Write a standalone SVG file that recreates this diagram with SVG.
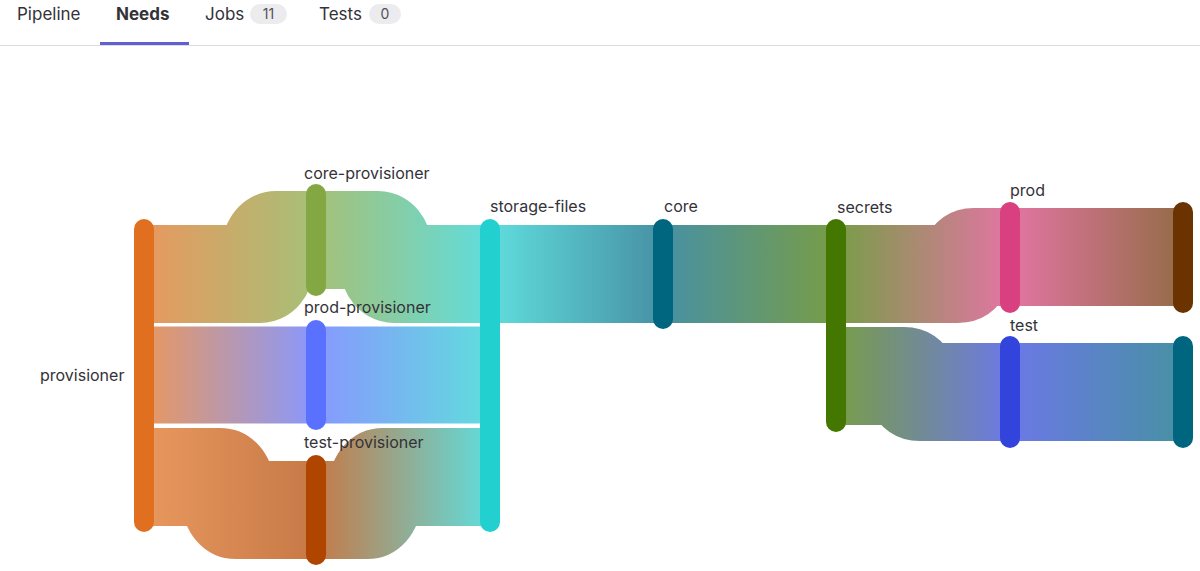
<svg xmlns="http://www.w3.org/2000/svg" width="1200" height="571" viewBox="0 0 1200 571">
<style>
.tab{font-family:"Inter","Liberation Sans",sans-serif;font-size:17px;fill:#333238}
.badge{fill:#ececef}
.bt{font-family:"Inter","Liberation Sans",sans-serif;font-size:14px;fill:#535158;text-anchor:middle}
.lbl{font-family:"Inter","Liberation Sans",sans-serif;font-size:16px;fill:#333238}
.lk{fill:none;stroke-opacity:0.72}
.w98{stroke-width:98}
</style>
<defs>
<linearGradient id="g1" gradientUnits="userSpaceOnUse" x1="144" y1="0" x2="316" y2="0"><stop offset="0" stop-color="#e07020"/><stop offset="1" stop-color="#83a843"/></linearGradient>
<linearGradient id="g2" gradientUnits="userSpaceOnUse" x1="316" y1="0" x2="490" y2="0"><stop offset="0" stop-color="#83a843"/><stop offset="1" stop-color="#22d0d0"/></linearGradient>
<linearGradient id="g3" gradientUnits="userSpaceOnUse" x1="144" y1="0" x2="316" y2="0"><stop offset="0" stop-color="#e07020"/><stop offset="1" stop-color="#5a70ff"/></linearGradient>
<linearGradient id="g4" gradientUnits="userSpaceOnUse" x1="316" y1="0" x2="490" y2="0"><stop offset="0" stop-color="#5a70ff"/><stop offset="1" stop-color="#22d0d0"/></linearGradient>
<linearGradient id="g5" gradientUnits="userSpaceOnUse" x1="144" y1="0" x2="316" y2="0"><stop offset="0" stop-color="#e07020"/><stop offset="1" stop-color="#b04500"/></linearGradient>
<linearGradient id="g6" gradientUnits="userSpaceOnUse" x1="316" y1="0" x2="490" y2="0"><stop offset="0" stop-color="#b04500"/><stop offset="1" stop-color="#22d0d0"/></linearGradient>
<linearGradient id="g7" gradientUnits="userSpaceOnUse" x1="490" y1="0" x2="663" y2="0"><stop offset="0" stop-color="#22d0d0"/><stop offset="1" stop-color="#006680"/></linearGradient>
<linearGradient id="g8" gradientUnits="userSpaceOnUse" x1="663" y1="0" x2="836" y2="0"><stop offset="0" stop-color="#006680"/><stop offset="1" stop-color="#447700"/></linearGradient>
<linearGradient id="g9" gradientUnits="userSpaceOnUse" x1="836" y1="0" x2="1010" y2="0"><stop offset="0" stop-color="#447700"/><stop offset="1" stop-color="#d84080"/></linearGradient>
<linearGradient id="g10" gradientUnits="userSpaceOnUse" x1="836" y1="0" x2="1010" y2="0"><stop offset="0" stop-color="#447700"/><stop offset="1" stop-color="#3344dd"/></linearGradient>
<linearGradient id="g11" gradientUnits="userSpaceOnUse" x1="1010" y1="0" x2="1183" y2="0"><stop offset="0" stop-color="#d84080"/><stop offset="1" stop-color="#6b3300"/></linearGradient>
<linearGradient id="g12" gradientUnits="userSpaceOnUse" x1="1010" y1="0" x2="1183" y2="0"><stop offset="0" stop-color="#3344dd"/><stop offset="1" stop-color="#006680"/></linearGradient>
</defs>
<rect width="1200" height="571" fill="#ffffff"/>
<g id="tabs">
<text class="tab" x="17" y="20">Pipeline</text>
<text class="tab" x="116" y="20" font-weight="bold">Needs</text>
<rect x="100" y="42" width="89" height="3" fill="#6060d0"/>
<text class="tab" x="205" y="20">Jobs</text>
<rect class="badge" x="250" y="4" width="37" height="20" rx="10"/>
<text class="bt" x="268.5" y="19">11</text>
<text class="tab" x="319" y="20">Tests</text>
<rect class="badge" x="369" y="4" width="32" height="20" rx="10"/>
<text class="bt" x="385" y="19">0</text>
<rect x="0" y="45" width="1200" height="1" fill="#dcdcde"/>
</g>
<g id="connectors">
<path class="lk w98" stroke="url(#g1)" d="M150,274 H260 C268,274 268,240 276,240 H316"/>
<path class="lk w98" stroke="url(#g2)" d="M316,240 H378 C386,240 386,274 394,274 H490"/>
<path class="lk" stroke="url(#g3)" stroke-width="97" d="M150,375 H316"/>
<path class="lk" stroke="url(#g4)" stroke-width="97" d="M316,375 H490"/>
<path class="lk w98" stroke="url(#g5)" d="M150,477 H220 C228,477 228,510 236,510 H316"/>
<path class="lk w98" stroke="url(#g6)" d="M316,510 H367 C375,510 375,477 383,477 H490"/>
<path class="lk w98" stroke="url(#g7)" d="M490,274 H663"/>
<path class="lk w98" stroke="url(#g8)" d="M663,274 H836"/>
<path class="lk w98" stroke="url(#g9)" d="M836,274 H958 C966,274 966,257 974,257 H1010"/>
<path class="lk w98" stroke="url(#g10)" d="M836,376 H904 C912,376 912,392 920,392 H1010"/>
<path class="lk w98" stroke="url(#g11)" d="M1010,257 H1183"/>
<path class="lk w98" stroke="url(#g12)" d="M1010,392 H1183"/>
<rect x="154" y="323" width="326" height="2" fill="#ffffff"/>
<rect x="154" y="424" width="326" height="2" fill="#ffffff"/>
</g>
<g id="provisioner"><rect x="134" y="219" width="20" height="313" rx="10" fill="#e07020"/><text class="lbl" x="40" y="381">provisioner</text></g>
<g id="core-provisioner"><rect x="306" y="184" width="20" height="112" rx="10" fill="#83a843"/><text class="lbl" x="304" y="179">core-provisioner</text></g>
<g id="prod-provisioner"><rect x="306" y="320" width="20" height="110" rx="10" fill="#5a70ff"/><text class="lbl" x="304" y="313">prod-provisioner</text></g>
<g id="test-provisioner"><rect x="306" y="455" width="20" height="110" rx="10" fill="#b04500"/><text class="lbl" x="304" y="448">test-provisioner</text></g>
<g id="storage-files"><rect x="480" y="219" width="20" height="313" rx="10" fill="#22d0d0"/><text class="lbl" x="490" y="212">storage-files</text></g>
<g id="core"><rect x="653" y="219" width="20" height="110" rx="10" fill="#006680"/><text class="lbl" x="664" y="212">core</text></g>
<g id="secrets"><rect x="826" y="219" width="20" height="213" rx="10" fill="#447700"/><text class="lbl" x="837" y="213">secrets</text></g>
<g id="prod"><rect x="1000" y="202" width="20" height="111" rx="10" fill="#d84080"/><text class="lbl" x="1010" y="196">prod</text></g>
<g id="test"><rect x="1000" y="336" width="20" height="112" rx="10" fill="#3344dd"/><text class="lbl" x="1010" y="331">test</text></g>
<g id="prod-end"><rect x="1173" y="202" width="20" height="111" rx="10" fill="#6b3300"/></g>
<g id="test-end"><rect x="1173" y="336" width="20" height="112" rx="10" fill="#006680"/></g>
</svg>
